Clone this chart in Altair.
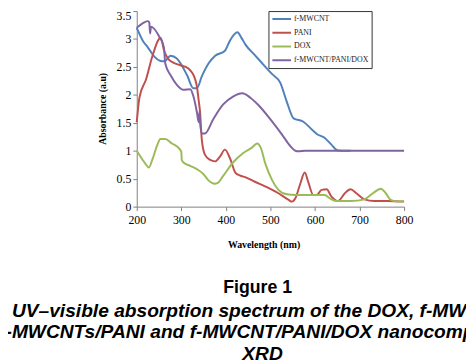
import altair as alt
import pandas as pd

series_names = ["f-MWCNT", "PANI", "DOX", "f-MWCNT/PANI/DOX"]
series_colors = ["#4f81bd", "#c0504d", "#9bbb59", "#8064a2"]

x_ticks = [200, 300, 400, 500, 600, 700, 800]
y_ticks = [0, 0.5, 1, 1.5, 2, 2.5, 3, 3.5]

mwcnt_nm = [200, 215, 224, 240, 252, 262, 276, 290, 313, 327, 335, 346, 361, 376, 398, 409,
            426, 435, 444, 464, 481, 504, 522, 537, 552, 574, 593, 604, 622, 637, 650, 667, 680]
mwcnt_abs = [3.2, 2.95, 2.86, 2.68, 2.61, 2.6, 2.7, 2.65, 2.35, 2.12, 2.12, 2.33, 2.56, 2.7, 2.79, 2.97,
             3.12, 3.02, 2.9, 2.72, 2.57, 2.37, 2.22, 1.87, 1.58, 1.52, 1.38, 1.3, 1.23, 1.11, 1.01, 1.0, 1.0]

pani_nm = [200, 206, 221, 235, 250, 254, 261, 272, 281, 298, 316, 331, 335, 339, 342, 346, 353, 364,
           376, 387, 398, 409, 422, 431, 446, 464, 489, 518, 541, 548, 556, 567, 577, 585, 596, 604,
           615, 626, 637, 652, 667, 680, 693, 711, 733, 763, 800]
pani_abs = [1.51, 1.95, 2.28, 2.69, 3.0, 3.02, 2.8, 2.63, 2.58, 2.53, 2.47, 2.28, 2.15, 1.9, 1.7, 1.2, 0.93, 0.84,
            0.81, 0.9, 1.02, 0.87, 0.6, 0.56, 0.52, 0.45, 0.36, 0.24, 0.12, 0.09, 0.15, 0.41, 0.61, 0.44, 0.21, 0.21,
            0.3, 0.31, 0.18, 0.1, 0.24, 0.31, 0.24, 0.13, 0.1, 0.1, 0.09]

dox_nm = [200, 213, 224, 227, 235, 246, 253, 264, 279, 294, 300, 301, 305, 320, 335, 350, 361, 375,
          381, 394, 416, 439, 459, 470, 478, 489, 504, 518, 537, 556, 593, 622, 633, 648, 681, 711,
          730, 748, 759, 770, 785, 800]
dox_abs = [1.0, 0.84, 0.72, 0.7, 0.84, 1.1, 1.21, 1.21, 1.13, 1.05, 0.98, 0.84, 0.79, 0.73, 0.67, 0.58, 0.47, 0.41,
           0.42, 0.55, 0.79, 0.96, 1.06, 1.13, 1.06, 0.76, 0.47, 0.3, 0.22, 0.21, 0.21, 0.21, 0.15, 0.1, 0.1, 0.13,
           0.24, 0.32, 0.24, 0.12, 0.09, 0.1]

combo_nm = [200, 213, 224, 228, 230, 232, 235, 250, 261, 264, 276, 290, 305, 320, 327, 335, 339, 341,
            342, 346, 353, 372, 394, 416, 437, 455, 474, 504, 526, 544, 556, 563, 578, 600, 700, 800]
combo_abs = [3.2, 3.28, 3.32, 3.3, 3.1, 3.22, 3.21, 3.05, 2.85, 2.56, 2.35, 2.18, 2.09, 2.1, 1.98, 1.69, 1.51, 1.71,
             1.51, 1.31, 1.31, 1.57, 1.83, 1.97, 2.03, 1.95, 1.81, 1.52, 1.29, 1.09, 1.0, 0.99, 1.0, 1.0, 1.0, 1.0]

caption_title = "Figure 1"
caption_line1 = "UV\u2013visible absorption spectrum of the DOX, f-MWCNTs,"
caption_line2 = "f-MWCNTs/PANI and f-MWCNT/PANI/DOX nanocomposites."
caption_line3 = "XRD"

rows = []
for name, xs, ys in zip(series_names,
                        [mwcnt_nm, pani_nm, dox_nm, combo_nm],
                        [mwcnt_abs, pani_abs, dox_abs, combo_abs]):
    for i, (x, y) in enumerate(zip(xs, ys)):
        rows.append({"series": name, "idx": i, "wavelength": x, "absorbance": y})
df = pd.DataFrame(rows)

serif = "Liberation Serif"
sans = "Liberation Sans"

lines = alt.Chart(df).mark_line(strokeWidth=2, interpolate="monotone").encode(
    x=alt.X("wavelength:Q",
            scale=alt.Scale(domain=[200, 800], nice=False, zero=False),
            axis=alt.Axis(values=x_ticks, title="Wavelength (nm)", titleX=129, titleY=39,
                          titleBaseline="middle", labelPadding=4, labelFlush=False)),
    y=alt.Y("absorbance:Q",
            scale=alt.Scale(domain=[0, 3.5], nice=False),
            axis=alt.Axis(values=y_ticks, format="~g", title="Absorbance (a.u)",
                          titleX=-35, titleY=99, titleBaseline="middle", titleAngle=270,
                          labelPadding=2, labelFlush=False,
                          labelBaseline={"condition": {"test": "datum.value == 3.5", "value": "top"},
                                         "value": "middle"})),
    color=alt.Color("series:N",
                    scale=alt.Scale(domain=series_names, range=series_colors),
                    legend=alt.Legend(title=None, orient="none", legendX=134, legendY=0,
                                      symbolType="stroke", symbolSize=360, symbolStrokeWidth=2,
                                      labelFont=serif, labelFontSize=8, labelColor="#222",
                                      strokeColor="#333", fillColor="white", padding=3,
                                      clipHeight=10, rowPadding=4, labelOffset=2)),
    order="idx:Q",
)

one = alt.Data(values=[{}])
t0 = alt.Chart(one).mark_text(text=caption_title, font=sans, fontSize=18, fontWeight="bold",
                              align="center", baseline="middle", color="black").encode(
    x=alt.value(123), y=alt.value(282))
t1 = alt.Chart(one).mark_text(text=caption_line1, font=sans, fontSize=19.5, fontWeight="bold",
                              fontStyle="italic", align="left", baseline="middle", color="black").encode(
    x=alt.value(-127), y=alt.value(305))
t2 = alt.Chart(one).mark_text(text=caption_line2, font=sans, fontSize=19.5, fontWeight="bold",
                              fontStyle="italic", align="left", baseline="middle", color="black").encode(
    x=alt.value(-140), y=alt.value(327))
t3 = alt.Chart(one).mark_text(text=caption_line3, font=sans, fontSize=19.5, fontWeight="bold",
                              fontStyle="italic", align="center", baseline="middle", color="black").encode(
    x=alt.value(128), y=alt.value(349))

chart = alt.layer(lines, t0, t1, t2, t3).properties(
    width=272, height=199,
    autosize=alt.AutoSizeParams(type="none"),
    padding={"left": 131, "top": 0, "right": 63, "bottom": 157},
).configure_view(stroke=None).configure_axis(
    grid=False, labelFont=serif, labelFontSize=12, labelColor="black",
    titleFont=serif, titleFontSize=10, titleFontWeight="bold", titleColor="black",
    domainColor="#808080", tickColor="#808080", tickSize=4,
)

chart.save("out.html", embed_options={"renderer": "svg", "actions": False})
